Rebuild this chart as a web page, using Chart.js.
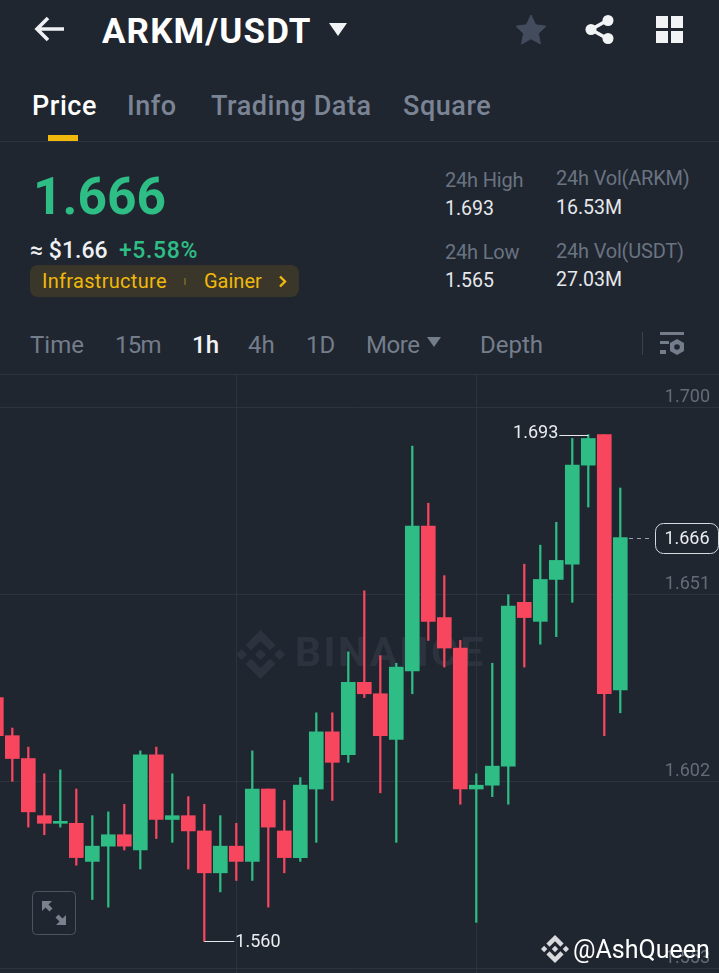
<!DOCTYPE html>
<html>
<head>
<meta charset="utf-8">
<title>ARKM/USDT</title>
<script src="https://cdn.jsdelivr.net/npm/chart.js@4"></script>
<style>
  html, body { margin: 0; padding: 0; background: #1f2630; }
  body { position: relative; width: 719px; height: 973px; overflow: hidden; font-family: Roboto, sans-serif; }
  .t { position: absolute; white-space: nowrap; line-height: 1; }
  .hr { position: absolute; left: 0; width: 719px; height: 1px; background: #2c333e; }
  .tab { font-size: 27px; color: #7b8494; font-weight: 500; top: 93px; letter-spacing: .55px; }
  .lbl { font-size: 20px; color: #6a7381; letter-spacing: -.2px; }
  .val { font-size: 19.5px; color: #e6e8ec; }
  .tf { font-size: 24px; color: #747d8b; top: 333px; }
  svg { position: absolute; }
  canvas { position: absolute; left: 0; top: 375px; }
</style>
</head>
<body>

<svg style="left:34px;top:15px" width="32" height="28" viewBox="0 0 32 28"><path d="M30 14H4M14 3 3 14l11 11" fill="none" stroke="#eef0f3" stroke-width="3.6"/></svg>
<div class="t" style="left:102px;top:14px;font-size:35px;font-weight:700;color:#fff;letter-spacing:1.1px">ARKM/USDT</div>
<svg style="left:328px;top:22px" width="20" height="16" viewBox="0 0 20 16"><path d="M1 1h18l-9 13z" fill="#f2f3f5"/></svg>
<svg style="left:515px;top:14px" width="32" height="32" viewBox="0 0 32 32"><path d="M16 1l4.6 9.8 10.4 1.4-7.6 7.2 2 10.6-9.4-5.2-9.4 5.2 2-10.6L1 12.2l10.4-1.4z" fill="#434c5c" stroke="#434c5c" stroke-linejoin="round"/></svg>
<svg style="left:584px;top:14px" width="31" height="31" viewBox="0 0 31 31"><path d="M24 6 7 15.500 24 25" fill="none" stroke="#f2f3f5" stroke-width="3.500"/><circle cx="24" cy="6.500" r="5.500" fill="#f2f3f5"/><circle cx="7" cy="15.500" r="5.500" fill="#f2f3f5"/><circle cx="24" cy="24.500" r="5.500" fill="#f2f3f5"/></svg>
<svg style="left:656px;top:16px" width="28" height="28" viewBox="0 0 28 28"><path d="M0 0h12v12H0zM15 0h12v12H15zM0 15h12v12H0zM15 15h12v12H15z" fill="#f2f3f5"/></svg>

<div class="t tab" style="left:32px;color:#fff">Price</div>
<div class="t tab" style="left:127px">Info</div>
<div class="t tab" style="left:211px">Trading Data</div>
<div class="t tab" style="left:403px">Square</div>
<div style="position:absolute;left:48px;top:135px;width:30px;height:6px;background:#f0b90b"></div>
<div class="hr" style="top:141px"></div>

<div class="t" style="left:33px;top:171px;font-size:51.5px;font-weight:700;color:#2ebd85">1.666</div>
<div class="t" style="left:30px;top:239px;font-size:23px;font-weight:500;color:#eef0f3">≈ $1.66</div>
<div class="t" style="left:119px;top:239px;font-size:23px;font-weight:500;color:#2ebd85;letter-spacing:.6px">+5.58%</div>
<div style="position:absolute;left:30px;top:265px;width:269px;height:32px;border-radius:8px;background:#3a3629"></div>
<div class="t" style="left:42px;top:271px;font-size:20px;color:#f0b90b;letter-spacing:.3px">Infrastructure</div>
<div style="position:absolute;left:184px;top:278px;width:2px;height:7px;background:#6b5d24"></div>
<div class="t" style="left:204px;top:271px;font-size:20px;color:#f0b90b">Gainer</div>
<svg style="left:278px;top:275px" width="10" height="13" viewBox="0 0 10 13"><path d="M2 1.500 7 6.500 2 11.500" fill="none" stroke="#f0b90b" stroke-width="2.400"/></svg>

<div class="t lbl" style="left:445px;top:170px">24h High</div>
<div class="t val" style="left:445px;top:199px">1.693</div>
<div class="t lbl" style="left:556px;top:168px">24h Vol(ARKM)</div>
<div class="t val" style="left:556px;top:198px">16.53M</div>
<div class="t lbl" style="left:445px;top:242px">24h Low</div>
<div class="t val" style="left:445px;top:271px">1.565</div>
<div class="t lbl" style="left:556px;top:241px">24h Vol(USDT)</div>
<div class="t val" style="left:556px;top:270px">27.03M</div>

<div class="t tf" style="left:30px">Time</div>
<div class="t tf" style="left:115px;letter-spacing:-.8px">15m</div>
<div class="t tf" style="left:192px;color:#f2f3f5;font-weight:500">1h</div>
<div class="t tf" style="left:248px">4h</div>
<div class="t tf" style="left:306px">1D</div>
<div class="t tf" style="left:366px;letter-spacing:-.4px">More</div>
<svg style="left:427px;top:337px" width="14" height="11" viewBox="0 0 14 11"><path d="M0 0h14l-7 10z" fill="#747d8b"/></svg>
<div class="t tf" style="left:480px">Depth</div>
<div style="position:absolute;left:642px;top:332px;width:1px;height:23px;background:#3a424e"></div>
<svg style="left:660px;top:332px" width="25" height="25" viewBox="0 0 25 25"><path d="M0 0h24v3H0zM0 9h9v3H0zM0 18h6v4H0z" fill="#747d8b"/><path d="M17 7l7 4v8l-7 4-7-4v-8z" fill="#747d8b"/><circle cx="17" cy="15" r="2.800" fill="#1f2630"/></svg>
<div class="hr" style="top:374px"></div>

<canvas id="chartCandle" width="719" height="598"></canvas>

<svg style="left:32px;top:891px" width="44" height="44" viewBox="0 0 44 44"><rect x=".5" y=".5" width="43" height="43" rx="4" fill="#1f2630" stroke="#4c5462"/><path d="M10 10h10l-3.500 3.500 4 4-3 3-4-4L10 20zM34 34H24l3.500-3.500-4-4 3-3 4 4L34 24z" fill="#79818e"/></svg>

<svg style="left:541px;top:935px" width="28" height="28" viewBox="0 0 126.61 126.61"><path id="bnbLogo" d="m38.73 53.2 24.59-24.58 24.6 24.6 14.3-14.31L63.32 0 24.42 38.9l14.31 14.3zM0 63.31 14.3 49l14.31 14.31-14.31 14.3zM38.73 73.41 63.32 98l24.6-24.6 14.31 14.29-38.9 38.91-38.91-38.88v-.03zM98.28 63.31 112.58 49l14.31 14.31-14.31 14.3zM77.83 63.3 63.32 48.78 48.81 63.3l14.51 14.53z" fill="#d9dadb"/></svg>
<div class="t" style="left:573px;top:937px;font-size:25px;color:#fff">@AshQueen</div>

<script>
// harga per candle 1 jam
const candleIndex = [0,1,2,3,4,5,6,7,8,9,10,11,12,13,14,15,16,17,18,19,20,21,22,23,24,25,26,27,28,29,30,31,32,33,34,35,36,37,38,39];
const opens  = [1.624,1.614,1.608,1.593,1.591,1.591,1.581,1.585,1.588,1.584,1.609,1.592,1.593,1.589,1.578,1.585,1.581,1.600,1.589,1.582,1.600,1.615,1.609,1.628,1.625,1.613,1.631,1.669,1.645,1.637,1.600,1.601,1.606,1.649,1.644,1.655,1.659,1.685,1.693,1.626];
const highs  = [1.624,1.616,1.611,1.604,1.605,1.600,1.593,1.594,1.596,1.610,1.611,1.604,1.598,1.596,1.593,1.591,1.610,1.600,1.597,1.603,1.620,1.620,1.636,1.652,1.635,1.633,1.690,1.675,1.656,1.639,1.604,1.633,1.651,1.659,1.664,1.670,1.692,1.693,1.693,1.679];
const lows   = [1.614,1.602,1.590,1.588,1.590,1.580,1.571,1.569,1.584,1.579,1.587,1.586,1.579,1.560,1.573,1.576,1.576,1.569,1.578,1.581,1.586,1.597,1.607,1.624,1.599,1.586,1.625,1.639,1.632,1.596,1.565,1.598,1.596,1.632,1.638,1.640,1.649,1.674,1.614,1.620];
const closes = [1.614,1.608,1.594,1.591,1.591,1.582,1.585,1.588,1.585,1.609,1.592,1.593,1.589,1.578,1.585,1.581,1.600,1.590,1.582,1.601,1.615,1.607,1.628,1.625,1.614,1.632,1.669,1.644,1.637,1.600,1.601,1.606,1.648,1.645,1.655,1.660,1.685,1.692,1.625,1.666];

const yTicks = [1.700, 1.651, 1.602, 1.553];
const xGridAt = [15, 30];
const lastPrice = 1.666;
const highMark = { index: 37, price: 1.693, label: '1.693' };
const lowMark = { index: 13, price: 1.560, label: '1.560' };

const hijau = '#2ebd85';
const merah = '#f8465f';
const warnaCandle = opens.map((o, i) => closes[i] >= o ? hijau : merah);

const logoPath = new Path2D(document.getElementById('bnbLogo').getAttribute('d'));

const anotasi = {
  id: 'anotasi',
  beforeDatasetsDraw(chart) {
    // watermark di belakang candle
    const c = chart.ctx;
    c.save();
    c.fillStyle = '#2c333f';
    c.translate(236, 255);
    c.scale(49 / 126.61, 49 / 126.61);
    c.fill(logoPath);
    c.restore();
    c.save();
    c.fillStyle = '#2c333f';
    c.font = 'bold 41px Roboto';
    c.letterSpacing = '2.4px';
    c.textBaseline = 'middle';
    c.fillText('BINANCE', 295, 281);
    c.restore();
  },
  afterDatasetsDraw(chart) {
    const c = chart.ctx;
    const x = chart.scales.x;
    const y = chart.scales.y;
    c.save();
    c.font = '18px Roboto';
    c.textBaseline = 'middle';
    c.fillStyle = '#eaecef';
    c.strokeStyle = '#e6e8ec';
    c.lineWidth = 1;

    // penanda tertinggi
    let px = x.getPixelForValue(highMark.index);
    let py = Math.round(y.getPixelForValue(highMark.price)) + 0.5;
    c.beginPath(); c.moveTo(px, py); c.lineTo(px - 29, py); c.stroke();
    c.textAlign = 'right';
    c.fillText(highMark.label, px - 30, py - 2);

    // penanda terendah
    px = x.getPixelForValue(lowMark.index);
    py = Math.round(y.getPixelForValue(lowMark.price)) + 0.5;
    c.beginPath(); c.moveTo(px, py); c.lineTo(px + 30, py); c.stroke();
    c.textAlign = 'left';
    c.fillText(lowMark.label, px + 31, py + 1);

    // harga terakhir
    py = Math.round(y.getPixelForValue(lastPrice)) + 0.5;
    c.strokeStyle = '#9aa0a9';
    c.setLineDash([4, 4]);
    c.beginPath(); c.moveTo(629, py); c.lineTo(651, py); c.stroke();
    c.setLineDash([]);
    c.strokeStyle = '#d6d9de';
    c.fillStyle = '#1f2630';
    c.beginPath(); c.roundRect(655.5, py - 15, 63, 30, 8); c.fill(); c.stroke();
    c.fillStyle = '#eaecef';
    c.textAlign = 'center';
    c.fillText('1.666', 687, py + 1);
    c.restore();
  }
};

new Chart(document.getElementById('chartCandle').getContext('2d'), {
  type: 'bar',
  data: {
    labels: candleIndex,
    datasets: [
      {
        label: 'sumbu',
        data: lows.map((l, i) => [l, highs[i]]),
        backgroundColor: warnaCandle,
        barThickness: 1.6,
        grouped: false,
        order: 2
      },
      {
        label: 'badan',
        data: opens.map((o, i) => [o, closes[i]]),
        backgroundColor: warnaCandle,
        barThickness: 14,
        minBarLength: 2,
        grouped: false,
        order: 1
      }
    ]
  },
  options: {
    responsive: false,
    animation: false,
    layout: { padding: 0 },
    plugins: { legend: { display: false }, tooltip: { enabled: false } },
    scales: {
      x: {
        type: 'linear',
        offset: false,
        min: 0.231,
        max: 45.17,
        border: { display: false },
        afterBuildTicks: axis => { axis.ticks = xGridAt.map(v => ({ value: v })); },
        afterFit: axis => { axis.paddingLeft = 0; axis.paddingRight = 0; },
        grid: { color: '#2c333e', drawTicks: false, offset: false },
        ticks: { display: false }
      },
      y: {
        position: 'right',
        min: 1.55171,
        max: 1.70866,
        border: { display: false },
        afterBuildTicks: axis => { axis.ticks = yTicks.map(v => ({ value: v })); },
        afterFit: axis => { axis.paddingTop = 0; axis.paddingBottom = 0; axis.width = 0; },
        grid: { color: '#2c333e', drawTicks: false },
        ticks: {
          mirror: true,
          padding: -9,
          labelOffset: -10,
          color: '#646c79',
          font: { family: 'Roboto', size: 18 },
          callback: v => v.toFixed(3)
        }
      }
    }
  },
  plugins: [anotasi]
});
</script>
</body>
</html>
